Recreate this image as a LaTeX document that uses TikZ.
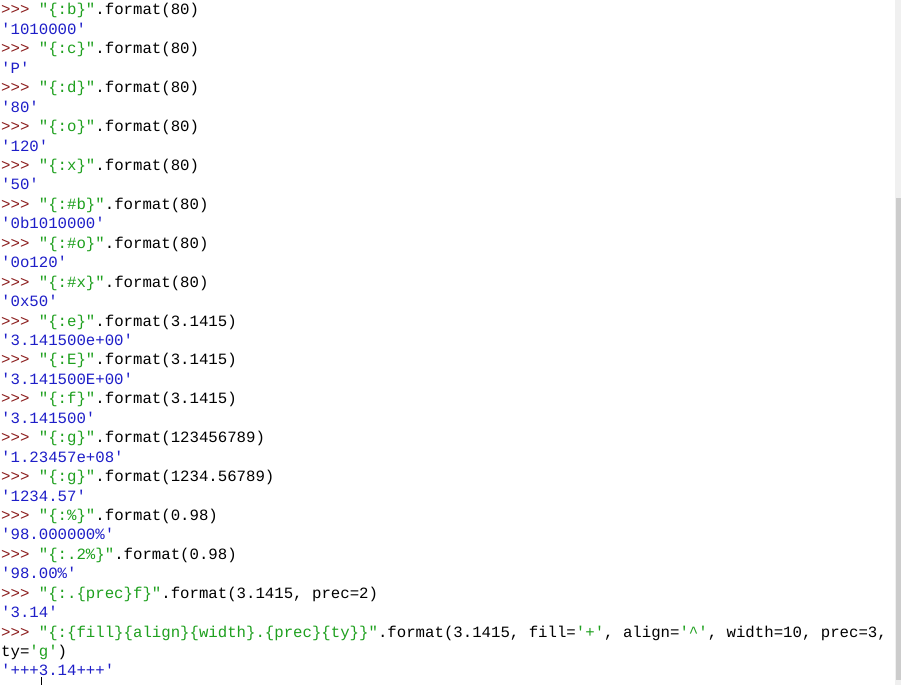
\documentclass[tikz,border=0pt]{standalone}
\usepackage{fontspec}
\setmonofont{Liberation Mono}
\definecolor{cprc}{RGB}{140,30,30}
\definecolor{cstc}{RGB}{30,160,30}
\definecolor{couc}{RGB}{30,30,200}
\newcommand\cpr{\textcolor{cprc}{>{}>{}>} }
\newcommand\cst[1]{\textcolor{cstc}{#1}}
\newcommand\cou[1]{\textcolor{couc}{#1}}
\newcommand\codeline[3]{\node[anchor=base west,inner sep=0pt,font=\ttfamily\fontsize{15.7}{19}\selectfont] (#1) at (1pt,{-15pt-19.44pt*#2}) {#3};}
\begin{document}
\begin{tikzpicture}[x=1pt,y=1pt]
\useasboundingbox (0,0) rectangle (901,-685);
\fill[white] (0,0) rectangle (901,-685);
\fill[black!6] (895,0) rectangle (901,-685);
\fill[black!20] (896,-198) rectangle (901,-680);
\codeline{l0}{0}{\cpr\cst{"\{:b\}"}.format(80)}
\codeline{l1}{1}{\cou{'1010000'}}
\codeline{l2}{2}{\cpr\cst{"\{:c\}"}.format(80)}
\codeline{l3}{3}{\cou{'P'}}
\codeline{l4}{4}{\cpr\cst{"\{:d\}"}.format(80)}
\codeline{l5}{5}{\cou{'80'}}
\codeline{l6}{6}{\cpr\cst{"\{:o\}"}.format(80)}
\codeline{l7}{7}{\cou{'120'}}
\codeline{l8}{8}{\cpr\cst{"\{:x\}"}.format(80)}
\codeline{l9}{9}{\cou{'50'}}
\codeline{l10}{10}{\cpr\cst{"\{:\#b\}"}.format(80)}
\codeline{l11}{11}{\cou{'0b1010000'}}
\codeline{l12}{12}{\cpr\cst{"\{:\#o\}"}.format(80)}
\codeline{l13}{13}{\cou{'0o120'}}
\codeline{l14}{14}{\cpr\cst{"\{:\#x\}"}.format(80)}
\codeline{l15}{15}{\cou{'0x50'}}
\codeline{l16}{16}{\cpr\cst{"\{:e\}"}.format(3.1415)}
\codeline{l17}{17}{\cou{'3.141500e+00'}}
\codeline{l18}{18}{\cpr\cst{"\{:E\}"}.format(3.1415)}
\codeline{l19}{19}{\cou{'3.141500E+00'}}
\codeline{l20}{20}{\cpr\cst{"\{:f\}"}.format(3.1415)}
\codeline{l21}{21}{\cou{'3.141500'}}
\codeline{l22}{22}{\cpr\cst{"\{:g\}"}.format(123456789)}
\codeline{l23}{23}{\cou{'1.23457e+08'}}
\codeline{l24}{24}{\cpr\cst{"\{:g\}"}.format(1234.56789)}
\codeline{l25}{25}{\cou{'1234.57'}}
\codeline{l26}{26}{\cpr\cst{"\{:\%\}"}.format(0.98)}
\codeline{l27}{27}{\cou{'98.000000\%'}}
\codeline{l28}{28}{\cpr\cst{"\{:.2\%\}"}.format(0.98)}
\codeline{l29}{29}{\cou{'98.00\%'}}
\codeline{l30}{30}{\cpr\cst{"\{:.\{prec\}f\}"}.format(3.1415, prec=2)}
\codeline{l31}{31}{\cou{'3.14'}}
\codeline{l32}{32}{\cpr\cst{"\{:\{fill\}\{align\}\{width\}.\{prec\}\{ty\}\}"}.format(3.1415, fill=\cst{'+'}, align=\cst{'\textasciicircum'}, width=10, prec=3,}
\codeline{l33}{33}{ty=\cst{'g'})}
\codeline{l34}{34}{\cou{'+++3.14+++'}}
\coordinate (cur) at (41,-677);
\draw[black,line width=0.8pt] (cur) -- ++(0,-8);
\end{tikzpicture}
\end{document}
